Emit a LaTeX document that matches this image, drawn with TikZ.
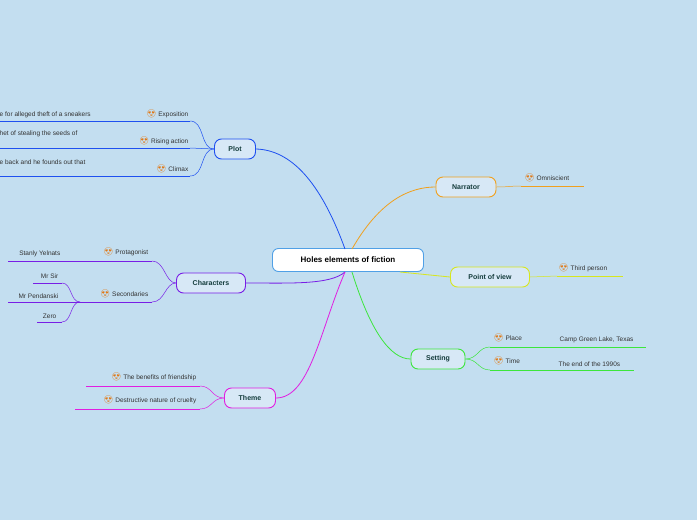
\documentclass[tikz,border=0pt]{standalone}
\usepackage{fontspec}
\setmainfont{Liberation Sans}
\newfontfamily\emofont{Noto Emoji}
\newcommand{\emo}{{\emofont\fontsize{8}{8}\selectfont\color[RGB]{225,120,20}😍}}
\begin{document}
\begin{tikzpicture}[x=1pt,y=-1pt,font=\fontsize{6.5}{7.5}\selectfont,
  main/.style={draw=#1,line width=0.9pt,rounded corners=7pt,fill={rgb,255:red,215;green,232;blue,246},font=\fontsize{7}{8}\selectfont\bfseries,text={rgb,255:red,20;green,60;blue,60},minimum height=20pt},
  lf/.style={anchor=south east,inner sep=1.5pt,text=black!80},
  ul/.style={line width=1pt,draw=#1},
  cn/.style={line width=0.5pt,draw=#1}]
\fill[fill={rgb,255:red,195;green,222;blue,240}] (0,0) rectangle (697,520);
\clip (0,0) rectangle (697,520);
\definecolor{cplot}{RGB}{30,80,240}
\definecolor{cchar}{RGB}{120,30,230}
\definecolor{ctheme}{RGB}{225,30,225}
\definecolor{cnarr}{RGB}{240,160,30}
\definecolor{cpov}{RGB}{215,230,30}
\definecolor{cset}{RGB}{60,230,60}
\node[draw={rgb,255:red,80;green,160;blue,230},line width=0.9pt,fill=white,rounded corners=6pt,minimum width=151pt,minimum height=23pt,font=\fontsize{8}{9}\selectfont\bfseries] (c) at (348,260) {Holes elements of fiction};
% main topics
\node[main=cplot,minimum width=41pt] (plot) at (235,149) {Plot};
\node[main=cchar,minimum width=69pt] (char) at (211,283) {Characters};
\node[main=ctheme,minimum width=51pt] (theme) at (250,398) {Theme};
\node[main=cnarr,minimum width=60pt] (narr) at (466,187) {Narrator};
\node[main=cpov,minimum width=79pt] (pov) at (490,277) {Point of view};
\node[main=cset,minimum width=54pt] (set) at (438,359) {Setting};
% central connectors
\draw[cn=cplot,line width=0.8pt] (345,249) .. controls (320,180) and (290,150) .. (plot.east);
\draw[cn=cchar,line width=0.8pt] (345,272) .. controls (330,285) and (290,283) .. (char.east);
\draw[cn=ctheme,line width=0.8pt] (345,272) .. controls (320,330) and (310,398) .. (theme.east);
\draw[cn=cnarr,line width=0.8pt] (352,249) .. controls (380,200) and (410,187) .. (narr.west);
\draw[cn=cpov,line width=0.8pt] (400,272) -- (pov.west);
\draw[cn=cset,line width=0.8pt] (352,272) .. controls (370,330) and (390,359) .. (set.west);
% Plot subtopics
\node[lf] (expo) at (190,120) {\emo\ Exposition};
\draw[ul=cplot] (130,121) -- (190,121);
\node[lf] (rise) at (190,147) {\emo\ Rising action};
\draw[ul=cplot] (122,148) -- (190,148);
\node[lf] (clim) at (190,175) {\emo\ Climax};
\draw[ul=cplot] (143,176) -- (190,176);
\draw[cn=cplot] (plot.west) .. controls (200,149) and (205,121) .. (190,121);
\draw[cn=cplot] (plot.west) -- (190,148);
\draw[cn=cplot] (plot.west) .. controls (200,149) and (205,176) .. (190,176);
\node[lf,anchor=south west] (l1) at (-2,120) {e for alleged theft of a sneakers};
\draw[ul=cplot] (0,121) -- (107,121); \draw[cn=cplot] (107,121) -- (130,121);
\node[lf,anchor=south west] (l2) at (-2,139) {het of stealing the seeds of};
\draw[ul=cplot] (0,148) -- (97,148); \draw[cn=cplot] (97,148) -- (122,148);
\node[lf,anchor=south west] (l3) at (-2,166) {e back and he founds out that};
\draw[ul=cplot] (0,176) -- (118,176); \draw[cn=cplot] (118,176) -- (143,176);
% Characters
\node[lf] (prot) at (150,258) {\emo\ Protagonist};
\draw[ul=cchar] (88,261) -- (152,261);
\node[lf] (sec) at (150,300) {\emo\ Secondaries};
\draw[ul=cchar] (88,302) -- (152,302);
\draw[cn=cchar] (char.west) .. controls (165,283) and (165,261) .. (152,261);
\draw[cn=cchar] (char.west) .. controls (165,283) and (165,302) .. (152,302);
\node[lf] (stan) at (62,259) {Stanly Yelnats};
\draw[ul=cchar] (8,261) -- (62,261); \draw[cn=cchar] (62,261) -- (88,261);
\node[lf] (sir) at (60,280) {Mr Sir};
\draw[ul=cchar] (33,283) -- (62,283);
\node[lf] (pen) at (60,300) {Mr Pendanski};
\draw[ul=cchar] (8,302) -- (62,302);
\node[lf] (zero) at (58,320) {Zero};
\draw[ul=cchar] (37,322) -- (62,322);
\draw[cn=cchar] (88,302) -- (62,302);
\draw[cn=cchar] (80,302) .. controls (70,302) and (72,283) .. (62,283);
\draw[cn=cchar] (80,302) .. controls (70,302) and (72,322) .. (62,322);
% Theme
\node[lf] (ben) at (198,383) {\emo\ The benefits of friendship};
\draw[ul=ctheme] (86,386) -- (200,386);
\node[lf] (des) at (198,406) {\emo\ Destructive nature of cruelty};
\draw[ul=ctheme] (75,409) -- (200,409);
\draw[cn=ctheme] (theme.west) .. controls (212,398) and (212,386) .. (200,386);
\draw[cn=ctheme] (theme.west) .. controls (212,398) and (212,409) .. (200,409);
% Narrator
\node[lf,anchor=south west] (omni) at (523,184) {\emo\ Omniscient};
\draw[ul=cnarr] (521,186) -- (584,186);
\draw[cn=cnarr] (narr.east) .. controls (508,187) and (510,186) .. (521,186);
% POV
\node[lf,anchor=south west] (third) at (557,274) {\emo\ Third person};
\draw[ul=cpov] (557,276) -- (623,276);
\draw[cn=cpov] (pov.east) -- (557,276);
% Setting
\node[lf,anchor=south west] (place) at (492,344) {\emo\ Place};
\draw[ul=cset] (490,347) -- (533,347);
\node[lf,anchor=south west] (time) at (492,367) {\emo\ Time};
\draw[ul=cset] (490,370) -- (533,370);
\draw[cn=cset] (set.east) .. controls (478,359) and (478,347) .. (490,347);
\draw[cn=cset] (set.east) .. controls (478,359) and (478,370) .. (490,370);
\node[lf,anchor=south west] (camp) at (558,345) {Camp Green Lake, Texas};
\draw[ul=cset] (556,347) -- (646,347); \draw[cn=cset] (533,347) -- (556,347);
\node[lf,anchor=south west] (end) at (557,368) {The end of the 1990s};
\draw[ul=cset] (556,370) -- (634,370); \draw[cn=cset] (533,370) -- (556,370);
\end{tikzpicture}
\end{document}
